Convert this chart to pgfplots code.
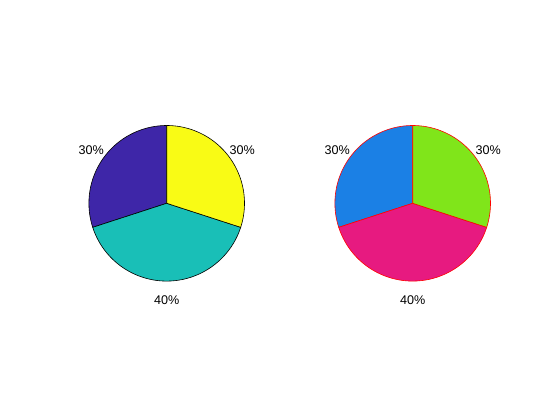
\documentclass[border=0pt]{standalone}
\usepackage{fontspec}
\setmainfont{Liberation Sans}
\usepackage{pgfplots}
\pgfplotsset{compat=1.18}
\usepgfplotslibrary{polar}
\definecolor{pA}{rgb}{0.2422,0.1504,0.6603}
\definecolor{pB}{rgb}{0.098,0.749,0.718}
\definecolor{pC}{rgb}{0.9769,0.9839,0.0805}
\definecolor{qA}{rgb}{0.106,0.502,0.898}
\definecolor{qB}{rgb}{0.906,0.102,0.502}
\definecolor{qC}{rgb}{0.502,0.898,0.102}
% slice values (percent)
\def\va{30}\def\vb{40}\def\vc{30}
\pgfmathsetmacro{\aS}{90}
\pgfmathsetmacro{\aA}{90+3.6*\va}
\pgfmathsetmacro{\aB}{\aA+3.6*\vb}
\pgfmathsetmacro{\aC}{\aB+3.6*\vc}
\pgfmathsetmacro{\mA}{(\aS+\aA)/2}
\pgfmathsetmacro{\mB}{(\aA+\aB)/2}
\pgfmathsetmacro{\mC}{(\aB+\aC)/2}
\pgfplotsset{pie/.style={hide axis, clip=false, scale only axis, width=155.6bp, height=155.6bp, ymin=0, ymax=1, anchor=center}}
\tikzset{lbl/.style={font=\fontsize{12.6bp}{15bp}\selectfont, inner sep=0pt, yshift=-1.5bp}}
\begin{document}
\begin{tikzpicture}
\useasboundingbox (0bp,0bp) rectangle (560bp,420bp);
\begin{polaraxis}[pie, at={(166.7bp,216.7bp)}]
\addplot[draw=black, line width=0.6bp, fill=pA, domain=\aS:\aA, samples=80] {1} -- (axis cs:0,0) -- cycle;
\addplot[draw=black, line width=0.6bp, fill=pB, domain=\aA:\aB, samples=100] {1} -- (axis cs:0,0) -- cycle;
\addplot[draw=black, line width=0.6bp, fill=pC, domain=\aB:\aC, samples=80] {1} -- (axis cs:0,0) -- cycle;
\node[lbl] at (axis cs:\mA,1.2) {\va\%};
\node[lbl] at (axis cs:\mB,1.22) {\vb\%};
\node[lbl] at (axis cs:\mC,1.2) {\vc\%};
\end{polaraxis}
\begin{polaraxis}[pie, at={(412.7bp,216.7bp)}]
\addplot[draw=red, line width=0.6bp, fill=qA, domain=\aS:\aA, samples=80] {1} -- (axis cs:0,0) -- cycle;
\addplot[draw=red, line width=0.6bp, fill=qB, domain=\aA:\aB, samples=100] {1} -- (axis cs:0,0) -- cycle;
\addplot[draw=red, line width=0.6bp, fill=qC, domain=\aB:\aC, samples=80] {1} -- (axis cs:0,0) -- cycle;
\node[lbl] at (axis cs:\mA,1.2) {\va\%};
\node[lbl] at (axis cs:\mB,1.22) {\vb\%};
\node[lbl] at (axis cs:\mC,1.2) {\vc\%};
\end{polaraxis}
\end{tikzpicture}
\end{document}
